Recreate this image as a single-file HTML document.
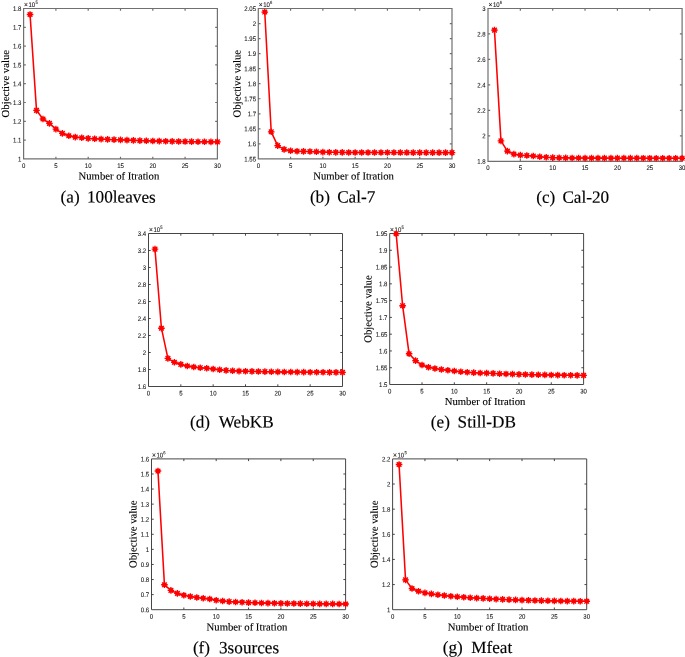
<!DOCTYPE html>
<html lang="en">
<head>
<meta charset="utf-8">
<title>Convergence curves</title>
<style>
html,body{margin:0;padding:0;background:#fff;}
body{width:685px;height:657px;overflow:hidden;}
svg{display:block;}
.t{font-family:"Liberation Sans",Arial,Helvetica,sans-serif;font-size:6.7px;fill:#111;stroke:#111;stroke-width:0.08px;}
.e{font-family:"Liberation Sans",Arial,Helvetica,sans-serif;font-size:6.7px;fill:#111;stroke:#111;stroke-width:0.08px;}
.l{font-family:"Liberation Serif","Times New Roman",Times,serif;font-size:10.7px;fill:#000;stroke:#000;stroke-width:0.12px;}
.c{font-family:"Liberation Serif","Times New Roman",Times,serif;font-size:17.2px;fill:#000;stroke:#000;stroke-width:0.15px;}
.ax{fill:none;stroke:#3c3c3c;stroke-width:0.95;}
.ln{fill:none;stroke:#ff0000;stroke-width:1.55;stroke-linejoin:round;}
.mk{fill:none;stroke:#ff0000;stroke-width:1.35;}
</style>
</head>
<body>
<svg width="685" height="657" viewBox="0 0 685 657">
<defs>
<g id="m"><path class="mk" d="M-3.3 0H3.3M0 -3.3V3.3M-2.33 -2.33L2.33 2.33M-2.33 2.33L2.33 -2.33"/><circle r="2.2" fill="#ff0000"/></g>
</defs>
<rect width="685" height="657" fill="#fff"/>

<g id="plot-a">
<path class="ax" style="stroke:#707070;stroke-width:1.2" d="M23.6 8.5H217.4V158.9H23.6ZM55.90 158.9v-2.2M55.90 8.5v2.2M88.20 158.9v-2.2M88.20 8.5v2.2M120.50 158.9v-2.2M120.50 8.5v2.2M152.80 158.9v-2.2M152.80 8.5v2.2M185.10 158.9v-2.2M185.10 8.5v2.2M23.6 140.10h2.2M217.4 140.10h-2.2M23.6 121.30h2.2M217.4 121.30h-2.2M23.6 102.50h2.2M217.4 102.50h-2.2M23.6 83.70h2.2M217.4 83.70h-2.2M23.6 64.90h2.2M217.4 64.90h-2.2M23.6 46.10h2.2M217.4 46.10h-2.2M23.6 27.30h2.2M217.4 27.30h-2.2"/>
<text class="t" transform="translate(23.60 167.90) rotate(0.03) scale(0.9 1)" text-anchor="middle">0</text>
<text class="t" transform="translate(55.90 167.90) rotate(0.03) scale(0.9 1)" text-anchor="middle">5</text>
<text class="t" transform="translate(88.20 167.90) rotate(0.03) scale(0.9 1)" text-anchor="middle">10</text>
<text class="t" transform="translate(120.50 167.90) rotate(0.03) scale(0.9 1)" text-anchor="middle">15</text>
<text class="t" transform="translate(152.80 167.90) rotate(0.03) scale(0.9 1)" text-anchor="middle">20</text>
<text class="t" transform="translate(185.10 167.90) rotate(0.03) scale(0.9 1)" text-anchor="middle">25</text>
<text class="t" transform="translate(217.40 167.90) rotate(0.03) scale(0.9 1)" text-anchor="middle">30</text>
<text class="t" transform="translate(21.30 161.40) rotate(0.03) scale(0.9 1)" text-anchor="end">1</text>
<text class="t" transform="translate(21.30 142.60) rotate(0.03) scale(0.9 1)" text-anchor="end">1.1</text>
<text class="t" transform="translate(21.30 123.80) rotate(0.03) scale(0.9 1)" text-anchor="end">1.2</text>
<text class="t" transform="translate(21.30 105.00) rotate(0.03) scale(0.9 1)" text-anchor="end">1.3</text>
<text class="t" transform="translate(21.30 86.20) rotate(0.03) scale(0.9 1)" text-anchor="end">1.4</text>
<text class="t" transform="translate(21.30 67.40) rotate(0.03) scale(0.9 1)" text-anchor="end">1.5</text>
<text class="t" transform="translate(21.30 48.60) rotate(0.03) scale(0.9 1)" text-anchor="end">1.6</text>
<text class="t" transform="translate(21.30 29.80) rotate(0.03) scale(0.9 1)" text-anchor="end">1.7</text>
<text class="t" transform="translate(21.30 11.00) rotate(0.03) scale(0.9 1)" text-anchor="end">1.8</text>
<text class="e" transform="translate(24.00 7.10) rotate(0.03) scale(0.9 1)"><tspan font-size="7.4">×</tspan><tspan dx="0.7">10</tspan><tspan dy="-3.2" dx="0.2" font-size="4.6">5</tspan></text>
<polyline class="ln" points="30.06,14.50 36.52,110.40 42.98,119.00 49.44,123.40 55.90,129.10 62.36,133.40 68.82,135.80 75.28,137.10 81.74,137.80 88.20,138.40 94.66,138.80 101.12,139.10 107.58,139.40 114.04,139.65 120.50,139.85 126.96,140.13 133.42,140.37 139.88,140.59 146.34,140.79 152.80,140.96 159.26,141.11 165.72,141.25 172.18,141.37 178.64,141.47 185.10,141.57 191.56,141.65 198.02,141.72 204.48,141.79 210.94,141.85 217.40,141.90"/>
<use href="#m" x="30.06" y="14.50"/>
<use href="#m" x="36.52" y="110.40"/>
<use href="#m" x="42.98" y="119.00"/>
<use href="#m" x="49.44" y="123.40"/>
<use href="#m" x="55.90" y="129.10"/>
<use href="#m" x="62.36" y="133.40"/>
<use href="#m" x="68.82" y="135.80"/>
<use href="#m" x="75.28" y="137.10"/>
<use href="#m" x="81.74" y="137.80"/>
<use href="#m" x="88.20" y="138.40"/>
<use href="#m" x="94.66" y="138.80"/>
<use href="#m" x="101.12" y="139.10"/>
<use href="#m" x="107.58" y="139.40"/>
<use href="#m" x="114.04" y="139.65"/>
<use href="#m" x="120.50" y="139.85"/>
<use href="#m" x="126.96" y="140.13"/>
<use href="#m" x="133.42" y="140.37"/>
<use href="#m" x="139.88" y="140.59"/>
<use href="#m" x="146.34" y="140.79"/>
<use href="#m" x="152.80" y="140.96"/>
<use href="#m" x="159.26" y="141.11"/>
<use href="#m" x="165.72" y="141.25"/>
<use href="#m" x="172.18" y="141.37"/>
<use href="#m" x="178.64" y="141.47"/>
<use href="#m" x="185.10" y="141.57"/>
<use href="#m" x="191.56" y="141.65"/>
<use href="#m" x="198.02" y="141.72"/>
<use href="#m" x="204.48" y="141.79"/>
<use href="#m" x="210.94" y="141.85"/>
<use href="#m" x="217.40" y="141.90"/>
<text class="l" transform="translate(9.10 83.70) rotate(-90.03)" text-anchor="middle">Objective value</text>
<text class="l" transform="translate(118.90 179.40) rotate(0.03)" text-anchor="middle">Number of Itration</text>
<text class="c" transform="translate(60.60 202.60) rotate(0.03)">(a)</text>
<text class="c" transform="translate(87.00 202.60) rotate(0.03)">100leaves</text>
</g>
<g id="plot-b">
<path class="ax" style="stroke:#707070;stroke-width:1.2" d="M258.3 8.5H452.0V158.9H258.3ZM290.58 158.9v-2.2M290.58 8.5v2.2M322.87 158.9v-2.2M322.87 8.5v2.2M355.15 158.9v-2.2M355.15 8.5v2.2M387.43 158.9v-2.2M387.43 8.5v2.2M419.72 158.9v-2.2M419.72 8.5v2.2M258.3 143.86h2.2M452.0 143.86h-2.2M258.3 128.82h2.2M452.0 128.82h-2.2M258.3 113.78h2.2M452.0 113.78h-2.2M258.3 98.74h2.2M452.0 98.74h-2.2M258.3 83.70h2.2M452.0 83.70h-2.2M258.3 68.66h2.2M452.0 68.66h-2.2M258.3 53.62h2.2M452.0 53.62h-2.2M258.3 38.58h2.2M452.0 38.58h-2.2M258.3 23.54h2.2M452.0 23.54h-2.2"/>
<text class="t" transform="translate(258.30 167.90) rotate(0.03) scale(0.9 1)" text-anchor="middle">0</text>
<text class="t" transform="translate(290.58 167.90) rotate(0.03) scale(0.9 1)" text-anchor="middle">5</text>
<text class="t" transform="translate(322.87 167.90) rotate(0.03) scale(0.9 1)" text-anchor="middle">10</text>
<text class="t" transform="translate(355.15 167.90) rotate(0.03) scale(0.9 1)" text-anchor="middle">15</text>
<text class="t" transform="translate(387.43 167.90) rotate(0.03) scale(0.9 1)" text-anchor="middle">20</text>
<text class="t" transform="translate(419.72 167.90) rotate(0.03) scale(0.9 1)" text-anchor="middle">25</text>
<text class="t" transform="translate(452.00 167.90) rotate(0.03) scale(0.9 1)" text-anchor="middle">30</text>
<text class="t" transform="translate(256.00 161.40) rotate(0.03) scale(0.9 1)" text-anchor="end">1.55</text>
<text class="t" transform="translate(256.00 146.36) rotate(0.03) scale(0.9 1)" text-anchor="end">1.6</text>
<text class="t" transform="translate(256.00 131.32) rotate(0.03) scale(0.9 1)" text-anchor="end">1.65</text>
<text class="t" transform="translate(256.00 116.28) rotate(0.03) scale(0.9 1)" text-anchor="end">1.7</text>
<text class="t" transform="translate(256.00 101.24) rotate(0.03) scale(0.9 1)" text-anchor="end">1.75</text>
<text class="t" transform="translate(256.00 86.20) rotate(0.03) scale(0.9 1)" text-anchor="end">1.8</text>
<text class="t" transform="translate(256.00 71.16) rotate(0.03) scale(0.9 1)" text-anchor="end">1.85</text>
<text class="t" transform="translate(256.00 56.12) rotate(0.03) scale(0.9 1)" text-anchor="end">1.9</text>
<text class="t" transform="translate(256.00 41.08) rotate(0.03) scale(0.9 1)" text-anchor="end">1.95</text>
<text class="t" transform="translate(256.00 26.04) rotate(0.03) scale(0.9 1)" text-anchor="end">2</text>
<text class="t" transform="translate(256.00 11.00) rotate(0.03) scale(0.9 1)" text-anchor="end">2.05</text>
<text class="e" transform="translate(258.70 7.10) rotate(0.03) scale(0.9 1)"><tspan font-size="7.4">×</tspan><tspan dx="0.7">10</tspan><tspan dy="-3.2" dx="0.2" font-size="4.6">6</tspan></text>
<polyline class="ln" points="264.76,12.05 271.21,131.80 277.67,145.60 284.13,149.40 290.58,150.75 297.04,151.20 303.50,151.40 309.95,151.55 316.41,151.80 322.87,152.10 329.32,152.30 335.78,152.35 342.24,152.40 348.69,152.45 355.15,152.50 361.61,152.51 368.06,152.53 374.52,152.54 380.98,152.55 387.43,152.55 393.89,152.56 400.35,152.57 406.80,152.57 413.26,152.58 419.72,152.58 426.17,152.59 432.63,152.59 439.09,152.59 445.54,152.60 452.00,152.60"/>
<use href="#m" x="264.76" y="12.05"/>
<use href="#m" x="271.21" y="131.80"/>
<use href="#m" x="277.67" y="145.60"/>
<use href="#m" x="284.13" y="149.40"/>
<use href="#m" x="290.58" y="150.75"/>
<use href="#m" x="297.04" y="151.20"/>
<use href="#m" x="303.50" y="151.40"/>
<use href="#m" x="309.95" y="151.55"/>
<use href="#m" x="316.41" y="151.80"/>
<use href="#m" x="322.87" y="152.10"/>
<use href="#m" x="329.32" y="152.30"/>
<use href="#m" x="335.78" y="152.35"/>
<use href="#m" x="342.24" y="152.40"/>
<use href="#m" x="348.69" y="152.45"/>
<use href="#m" x="355.15" y="152.50"/>
<use href="#m" x="361.61" y="152.51"/>
<use href="#m" x="368.06" y="152.53"/>
<use href="#m" x="374.52" y="152.54"/>
<use href="#m" x="380.98" y="152.55"/>
<use href="#m" x="387.43" y="152.55"/>
<use href="#m" x="393.89" y="152.56"/>
<use href="#m" x="400.35" y="152.57"/>
<use href="#m" x="406.80" y="152.57"/>
<use href="#m" x="413.26" y="152.58"/>
<use href="#m" x="419.72" y="152.58"/>
<use href="#m" x="426.17" y="152.59"/>
<use href="#m" x="432.63" y="152.59"/>
<use href="#m" x="439.09" y="152.59"/>
<use href="#m" x="445.54" y="152.60"/>
<use href="#m" x="452.00" y="152.60"/>
<text class="l" transform="translate(240.60 83.70) rotate(-90.03)" text-anchor="middle">Objective value</text>
<text class="l" transform="translate(353.55 179.40) rotate(0.03)" text-anchor="middle">Number of Itration</text>
<text class="c" transform="translate(309.90 202.60) rotate(0.03)">(b)</text>
<text class="c" transform="translate(337.15 202.60) rotate(0.03)">Cal-7</text>
</g>
<g id="plot-c">
<path class="ax" style="stroke:#707070;stroke-width:1.2" d="M488.0 8.5H682.1V161.3H488.0ZM520.35 161.3v-2.2M520.35 8.5v2.2M552.70 161.3v-2.2M552.70 8.5v2.2M585.05 161.3v-2.2M585.05 8.5v2.2M617.40 161.3v-2.2M617.40 8.5v2.2M649.75 161.3v-2.2M649.75 8.5v2.2M488.0 135.83h2.2M682.1 135.83h-2.2M488.0 110.37h2.2M682.1 110.37h-2.2M488.0 84.90h2.2M682.1 84.90h-2.2M488.0 59.43h2.2M682.1 59.43h-2.2M488.0 33.97h2.2M682.1 33.97h-2.2"/>
<text class="t" transform="translate(488.00 169.95) rotate(0.03) scale(0.9 1)" text-anchor="middle">0</text>
<text class="t" transform="translate(520.35 169.95) rotate(0.03) scale(0.9 1)" text-anchor="middle">5</text>
<text class="t" transform="translate(552.70 169.95) rotate(0.03) scale(0.9 1)" text-anchor="middle">10</text>
<text class="t" transform="translate(585.05 169.95) rotate(0.03) scale(0.9 1)" text-anchor="middle">15</text>
<text class="t" transform="translate(617.40 169.95) rotate(0.03) scale(0.9 1)" text-anchor="middle">20</text>
<text class="t" transform="translate(649.75 169.95) rotate(0.03) scale(0.9 1)" text-anchor="middle">25</text>
<text class="t" transform="translate(682.10 169.95) rotate(0.03) scale(0.9 1)" text-anchor="middle">30</text>
<text class="t" transform="translate(485.70 163.80) rotate(0.03) scale(0.9 1)" text-anchor="end">1.8</text>
<text class="t" transform="translate(485.70 138.33) rotate(0.03) scale(0.9 1)" text-anchor="end">2</text>
<text class="t" transform="translate(485.70 112.87) rotate(0.03) scale(0.9 1)" text-anchor="end">2.2</text>
<text class="t" transform="translate(485.70 87.40) rotate(0.03) scale(0.9 1)" text-anchor="end">2.4</text>
<text class="t" transform="translate(485.70 61.93) rotate(0.03) scale(0.9 1)" text-anchor="end">2.6</text>
<text class="t" transform="translate(485.70 36.47) rotate(0.03) scale(0.9 1)" text-anchor="end">2.8</text>
<text class="t" transform="translate(485.70 11.00) rotate(0.03) scale(0.9 1)" text-anchor="end">3</text>
<text class="e" transform="translate(488.40 7.10) rotate(0.03) scale(0.9 1)"><tspan font-size="7.4">×</tspan><tspan dx="0.7">10</tspan><tspan dy="-3.2" dx="0.2" font-size="4.6">6</tspan></text>
<polyline class="ln" points="494.47,30.10 500.94,140.90 507.41,151.15 513.88,154.15 520.35,155.15 526.82,155.55 533.29,156.05 539.76,156.75 546.23,157.30 552.70,157.60 559.17,157.75 565.64,157.85 572.11,157.95 578.58,158.05 585.05,158.10 591.52,158.11 597.99,158.13 604.46,158.14 610.93,158.15 617.40,158.15 623.87,158.16 630.34,158.17 636.81,158.17 643.28,158.18 649.75,158.18 656.22,158.19 662.69,158.19 669.16,158.19 675.63,158.20 682.10,158.20"/>
<use href="#m" x="494.47" y="30.10"/>
<use href="#m" x="500.94" y="140.90"/>
<use href="#m" x="507.41" y="151.15"/>
<use href="#m" x="513.88" y="154.15"/>
<use href="#m" x="520.35" y="155.15"/>
<use href="#m" x="526.82" y="155.55"/>
<use href="#m" x="533.29" y="156.05"/>
<use href="#m" x="539.76" y="156.75"/>
<use href="#m" x="546.23" y="157.30"/>
<use href="#m" x="552.70" y="157.60"/>
<use href="#m" x="559.17" y="157.75"/>
<use href="#m" x="565.64" y="157.85"/>
<use href="#m" x="572.11" y="157.95"/>
<use href="#m" x="578.58" y="158.05"/>
<use href="#m" x="585.05" y="158.10"/>
<use href="#m" x="591.52" y="158.11"/>
<use href="#m" x="597.99" y="158.13"/>
<use href="#m" x="604.46" y="158.14"/>
<use href="#m" x="610.93" y="158.15"/>
<use href="#m" x="617.40" y="158.15"/>
<use href="#m" x="623.87" y="158.16"/>
<use href="#m" x="630.34" y="158.17"/>
<use href="#m" x="636.81" y="158.17"/>
<use href="#m" x="643.28" y="158.18"/>
<use href="#m" x="649.75" y="158.18"/>
<use href="#m" x="656.22" y="158.19"/>
<use href="#m" x="662.69" y="158.19"/>
<use href="#m" x="669.16" y="158.19"/>
<use href="#m" x="675.63" y="158.20"/>
<use href="#m" x="682.10" y="158.20"/>
<text class="c" transform="translate(536.20 202.70) rotate(0.03)">(c)</text>
<text class="c" transform="translate(562.40 202.70) rotate(0.03)">Cal-20</text>
</g>
<g id="plot-d">
<path class="ax" style="stroke:#3c3c3c;stroke-width:0.95" d="M148.5 233.5H342.5V386.5H148.5ZM180.83 386.5v-2.2M180.83 233.5v2.2M213.17 386.5v-2.2M213.17 233.5v2.2M245.50 386.5v-2.2M245.50 233.5v2.2M277.83 386.5v-2.2M277.83 233.5v2.2M310.17 386.5v-2.2M310.17 233.5v2.2M148.5 369.50h2.2M342.5 369.50h-2.2M148.5 352.50h2.2M342.5 352.50h-2.2M148.5 335.50h2.2M342.5 335.50h-2.2M148.5 318.50h2.2M342.5 318.50h-2.2M148.5 301.50h2.2M342.5 301.50h-2.2M148.5 284.50h2.2M342.5 284.50h-2.2M148.5 267.50h2.2M342.5 267.50h-2.2M148.5 250.50h2.2M342.5 250.50h-2.2"/>
<text class="t" transform="translate(148.50 395.50) rotate(0.03) scale(0.9 1)" text-anchor="middle">0</text>
<text class="t" transform="translate(180.83 395.50) rotate(0.03) scale(0.9 1)" text-anchor="middle">5</text>
<text class="t" transform="translate(213.17 395.50) rotate(0.03) scale(0.9 1)" text-anchor="middle">10</text>
<text class="t" transform="translate(245.50 395.50) rotate(0.03) scale(0.9 1)" text-anchor="middle">15</text>
<text class="t" transform="translate(277.83 395.50) rotate(0.03) scale(0.9 1)" text-anchor="middle">20</text>
<text class="t" transform="translate(310.17 395.50) rotate(0.03) scale(0.9 1)" text-anchor="middle">25</text>
<text class="t" transform="translate(342.50 395.50) rotate(0.03) scale(0.9 1)" text-anchor="middle">30</text>
<text class="t" transform="translate(146.20 389.00) rotate(0.03) scale(0.9 1)" text-anchor="end">1.6</text>
<text class="t" transform="translate(146.20 372.00) rotate(0.03) scale(0.9 1)" text-anchor="end">1.8</text>
<text class="t" transform="translate(146.20 355.00) rotate(0.03) scale(0.9 1)" text-anchor="end">2</text>
<text class="t" transform="translate(146.20 338.00) rotate(0.03) scale(0.9 1)" text-anchor="end">2.2</text>
<text class="t" transform="translate(146.20 321.00) rotate(0.03) scale(0.9 1)" text-anchor="end">2.4</text>
<text class="t" transform="translate(146.20 304.00) rotate(0.03) scale(0.9 1)" text-anchor="end">2.6</text>
<text class="t" transform="translate(146.20 287.00) rotate(0.03) scale(0.9 1)" text-anchor="end">2.8</text>
<text class="t" transform="translate(146.20 270.00) rotate(0.03) scale(0.9 1)" text-anchor="end">3</text>
<text class="t" transform="translate(146.20 253.00) rotate(0.03) scale(0.9 1)" text-anchor="end">3.2</text>
<text class="t" transform="translate(146.20 236.00) rotate(0.03) scale(0.9 1)" text-anchor="end">3.4</text>
<text class="e" transform="translate(148.90 232.10) rotate(0.03) scale(0.9 1)"><tspan font-size="7.4">×</tspan><tspan dx="0.7">10</tspan><tspan dy="-3.2" dx="0.2" font-size="4.6">5</tspan></text>
<polyline class="ln" points="154.97,249.10 161.43,328.20 167.90,358.40 174.37,362.30 180.83,364.40 187.30,366.00 193.77,367.00 200.23,367.70 206.70,368.30 213.17,369.05 219.63,369.80 226.10,370.40 232.57,370.80 239.03,371.10 245.50,371.25 251.97,371.41 258.43,371.54 264.90,371.67 271.37,371.78 277.83,371.87 284.30,371.96 290.77,372.03 297.23,372.10 303.70,372.16 310.17,372.21 316.63,372.26 323.10,372.30 329.57,372.34 336.03,372.37 342.50,372.40"/>
<use href="#m" x="154.97" y="249.10"/>
<use href="#m" x="161.43" y="328.20"/>
<use href="#m" x="167.90" y="358.40"/>
<use href="#m" x="174.37" y="362.30"/>
<use href="#m" x="180.83" y="364.40"/>
<use href="#m" x="187.30" y="366.00"/>
<use href="#m" x="193.77" y="367.00"/>
<use href="#m" x="200.23" y="367.70"/>
<use href="#m" x="206.70" y="368.30"/>
<use href="#m" x="213.17" y="369.05"/>
<use href="#m" x="219.63" y="369.80"/>
<use href="#m" x="226.10" y="370.40"/>
<use href="#m" x="232.57" y="370.80"/>
<use href="#m" x="239.03" y="371.10"/>
<use href="#m" x="245.50" y="371.25"/>
<use href="#m" x="251.97" y="371.41"/>
<use href="#m" x="258.43" y="371.54"/>
<use href="#m" x="264.90" y="371.67"/>
<use href="#m" x="271.37" y="371.78"/>
<use href="#m" x="277.83" y="371.87"/>
<use href="#m" x="284.30" y="371.96"/>
<use href="#m" x="290.77" y="372.03"/>
<use href="#m" x="297.23" y="372.10"/>
<use href="#m" x="303.70" y="372.16"/>
<use href="#m" x="310.17" y="372.21"/>
<use href="#m" x="316.63" y="372.26"/>
<use href="#m" x="323.10" y="372.30"/>
<use href="#m" x="329.57" y="372.34"/>
<use href="#m" x="336.03" y="372.37"/>
<use href="#m" x="342.50" y="372.40"/>
<text class="c" transform="translate(190.00 427.60) rotate(0.03)">(d)</text>
<text class="c" transform="translate(218.70 427.60) rotate(0.03)">WebKB</text>
</g>
<g id="plot-e">
<path class="ax" style="stroke:#3c3c3c;stroke-width:0.95" d="M389.7 233.5H583.6V384.5H389.7ZM422.02 384.5v-2.2M422.02 233.5v2.2M454.33 384.5v-2.2M454.33 233.5v2.2M486.65 384.5v-2.2M486.65 233.5v2.2M518.97 384.5v-2.2M518.97 233.5v2.2M551.28 384.5v-2.2M551.28 233.5v2.2M389.7 367.72h2.2M583.6 367.72h-2.2M389.7 350.94h2.2M583.6 350.94h-2.2M389.7 334.17h2.2M583.6 334.17h-2.2M389.7 317.39h2.2M583.6 317.39h-2.2M389.7 300.61h2.2M583.6 300.61h-2.2M389.7 283.83h2.2M583.6 283.83h-2.2M389.7 267.06h2.2M583.6 267.06h-2.2M389.7 250.28h2.2M583.6 250.28h-2.2"/>
<text class="t" transform="translate(389.70 393.50) rotate(0.03) scale(0.9 1)" text-anchor="middle">0</text>
<text class="t" transform="translate(422.02 393.50) rotate(0.03) scale(0.9 1)" text-anchor="middle">5</text>
<text class="t" transform="translate(454.33 393.50) rotate(0.03) scale(0.9 1)" text-anchor="middle">10</text>
<text class="t" transform="translate(486.65 393.50) rotate(0.03) scale(0.9 1)" text-anchor="middle">15</text>
<text class="t" transform="translate(518.97 393.50) rotate(0.03) scale(0.9 1)" text-anchor="middle">20</text>
<text class="t" transform="translate(551.28 393.50) rotate(0.03) scale(0.9 1)" text-anchor="middle">25</text>
<text class="t" transform="translate(583.60 393.50) rotate(0.03) scale(0.9 1)" text-anchor="middle">30</text>
<text class="t" transform="translate(387.40 387.00) rotate(0.03) scale(0.9 1)" text-anchor="end">1.5</text>
<text class="t" transform="translate(387.40 370.22) rotate(0.03) scale(0.9 1)" text-anchor="end">1.55</text>
<text class="t" transform="translate(387.40 353.44) rotate(0.03) scale(0.9 1)" text-anchor="end">1.6</text>
<text class="t" transform="translate(387.40 336.67) rotate(0.03) scale(0.9 1)" text-anchor="end">1.65</text>
<text class="t" transform="translate(387.40 319.89) rotate(0.03) scale(0.9 1)" text-anchor="end">1.7</text>
<text class="t" transform="translate(387.40 303.11) rotate(0.03) scale(0.9 1)" text-anchor="end">1.75</text>
<text class="t" transform="translate(387.40 286.33) rotate(0.03) scale(0.9 1)" text-anchor="end">1.8</text>
<text class="t" transform="translate(387.40 269.56) rotate(0.03) scale(0.9 1)" text-anchor="end">1.85</text>
<text class="t" transform="translate(387.40 252.78) rotate(0.03) scale(0.9 1)" text-anchor="end">1.9</text>
<text class="t" transform="translate(387.40 236.00) rotate(0.03) scale(0.9 1)" text-anchor="end">1.95</text>
<text class="e" transform="translate(390.10 232.10) rotate(0.03) scale(0.9 1)"><tspan font-size="7.4">×</tspan><tspan dx="0.7">10</tspan><tspan dy="-3.2" dx="0.2" font-size="4.6">5</tspan></text>
<polyline class="ln" points="396.16,233.70 402.63,305.70 409.09,353.80 415.55,360.60 422.02,365.00 428.48,367.30 434.94,368.50 441.41,369.45 447.87,370.20 454.33,371.00 460.80,371.70 467.26,372.20 473.72,372.65 480.19,372.95 486.65,373.10 493.11,373.41 499.58,373.69 506.04,373.93 512.50,374.15 518.97,374.34 525.43,374.51 531.89,374.67 538.36,374.80 544.82,374.92 551.28,375.03 557.75,375.12 564.21,375.20 570.67,375.28 577.14,375.34 583.60,375.40"/>
<use href="#m" x="396.16" y="233.70"/>
<use href="#m" x="402.63" y="305.70"/>
<use href="#m" x="409.09" y="353.80"/>
<use href="#m" x="415.55" y="360.60"/>
<use href="#m" x="422.02" y="365.00"/>
<use href="#m" x="428.48" y="367.30"/>
<use href="#m" x="434.94" y="368.50"/>
<use href="#m" x="441.41" y="369.45"/>
<use href="#m" x="447.87" y="370.20"/>
<use href="#m" x="454.33" y="371.00"/>
<use href="#m" x="460.80" y="371.70"/>
<use href="#m" x="467.26" y="372.20"/>
<use href="#m" x="473.72" y="372.65"/>
<use href="#m" x="480.19" y="372.95"/>
<use href="#m" x="486.65" y="373.10"/>
<use href="#m" x="493.11" y="373.41"/>
<use href="#m" x="499.58" y="373.69"/>
<use href="#m" x="506.04" y="373.93"/>
<use href="#m" x="512.50" y="374.15"/>
<use href="#m" x="518.97" y="374.34"/>
<use href="#m" x="525.43" y="374.51"/>
<use href="#m" x="531.89" y="374.67"/>
<use href="#m" x="538.36" y="374.80"/>
<use href="#m" x="544.82" y="374.92"/>
<use href="#m" x="551.28" y="375.03"/>
<use href="#m" x="557.75" y="375.12"/>
<use href="#m" x="564.21" y="375.20"/>
<use href="#m" x="570.67" y="375.28"/>
<use href="#m" x="577.14" y="375.34"/>
<use href="#m" x="583.60" y="375.40"/>
<text class="l" transform="translate(371.60 309.00) rotate(-90.03)" text-anchor="middle">Objective value</text>
<text class="l" transform="translate(485.05 404.90) rotate(0.03)" text-anchor="middle">Number of Itration</text>
<text class="c" transform="translate(430.80 427.40) rotate(0.03)">(e)</text>
<text class="c" transform="translate(457.60 427.40) rotate(0.03)">Still-DB</text>
</g>
<g id="plot-f">
<path class="ax" style="stroke:#3c3c3c;stroke-width:0.95" d="M151.5 458.9H345.6V609.7H151.5ZM183.85 609.7v-2.2M183.85 458.9v2.2M216.20 609.7v-2.2M216.20 458.9v2.2M248.55 609.7v-2.2M248.55 458.9v2.2M280.90 609.7v-2.2M280.90 458.9v2.2M313.25 609.7v-2.2M313.25 458.9v2.2M151.5 594.62h2.2M345.6 594.62h-2.2M151.5 579.54h2.2M345.6 579.54h-2.2M151.5 564.46h2.2M345.6 564.46h-2.2M151.5 549.38h2.2M345.6 549.38h-2.2M151.5 534.30h2.2M345.6 534.30h-2.2M151.5 519.22h2.2M345.6 519.22h-2.2M151.5 504.14h2.2M345.6 504.14h-2.2M151.5 489.06h2.2M345.6 489.06h-2.2M151.5 473.98h2.2M345.6 473.98h-2.2"/>
<text class="t" transform="translate(151.50 618.70) rotate(0.03) scale(0.9 1)" text-anchor="middle">0</text>
<text class="t" transform="translate(183.85 618.70) rotate(0.03) scale(0.9 1)" text-anchor="middle">5</text>
<text class="t" transform="translate(216.20 618.70) rotate(0.03) scale(0.9 1)" text-anchor="middle">10</text>
<text class="t" transform="translate(248.55 618.70) rotate(0.03) scale(0.9 1)" text-anchor="middle">15</text>
<text class="t" transform="translate(280.90 618.70) rotate(0.03) scale(0.9 1)" text-anchor="middle">20</text>
<text class="t" transform="translate(313.25 618.70) rotate(0.03) scale(0.9 1)" text-anchor="middle">25</text>
<text class="t" transform="translate(345.60 618.70) rotate(0.03) scale(0.9 1)" text-anchor="middle">30</text>
<text class="t" transform="translate(149.20 612.20) rotate(0.03) scale(0.9 1)" text-anchor="end">0.6</text>
<text class="t" transform="translate(149.20 597.12) rotate(0.03) scale(0.9 1)" text-anchor="end">0.7</text>
<text class="t" transform="translate(149.20 582.04) rotate(0.03) scale(0.9 1)" text-anchor="end">0.8</text>
<text class="t" transform="translate(149.20 566.96) rotate(0.03) scale(0.9 1)" text-anchor="end">0.9</text>
<text class="t" transform="translate(149.20 551.88) rotate(0.03) scale(0.9 1)" text-anchor="end">1</text>
<text class="t" transform="translate(149.20 536.80) rotate(0.03) scale(0.9 1)" text-anchor="end">1.1</text>
<text class="t" transform="translate(149.20 521.72) rotate(0.03) scale(0.9 1)" text-anchor="end">1.2</text>
<text class="t" transform="translate(149.20 506.64) rotate(0.03) scale(0.9 1)" text-anchor="end">1.3</text>
<text class="t" transform="translate(149.20 491.56) rotate(0.03) scale(0.9 1)" text-anchor="end">1.4</text>
<text class="t" transform="translate(149.20 476.48) rotate(0.03) scale(0.9 1)" text-anchor="end">1.5</text>
<text class="t" transform="translate(149.20 461.40) rotate(0.03) scale(0.9 1)" text-anchor="end">1.6</text>
<text class="e" transform="translate(151.90 457.50) rotate(0.03) scale(0.9 1)"><tspan font-size="7.4">×</tspan><tspan dx="0.7">10</tspan><tspan dy="-3.2" dx="0.2" font-size="4.6">6</tspan></text>
<polyline class="ln" points="157.97,471.05 164.44,584.80 170.91,590.40 177.38,593.40 183.85,595.20 190.32,596.50 196.79,597.50 203.26,598.20 209.73,599.00 216.20,600.30 222.67,601.00 229.14,601.60 235.61,602.00 242.08,602.30 248.55,602.60 255.02,602.79 261.49,602.96 267.96,603.11 274.43,603.24 280.90,603.36 287.37,603.46 293.84,603.55 300.31,603.64 306.78,603.71 313.25,603.77 319.72,603.83 326.19,603.88 332.66,603.92 339.13,603.96 345.60,604.00"/>
<use href="#m" x="157.97" y="471.05"/>
<use href="#m" x="164.44" y="584.80"/>
<use href="#m" x="170.91" y="590.40"/>
<use href="#m" x="177.38" y="593.40"/>
<use href="#m" x="183.85" y="595.20"/>
<use href="#m" x="190.32" y="596.50"/>
<use href="#m" x="196.79" y="597.50"/>
<use href="#m" x="203.26" y="598.20"/>
<use href="#m" x="209.73" y="599.00"/>
<use href="#m" x="216.20" y="600.30"/>
<use href="#m" x="222.67" y="601.00"/>
<use href="#m" x="229.14" y="601.60"/>
<use href="#m" x="235.61" y="602.00"/>
<use href="#m" x="242.08" y="602.30"/>
<use href="#m" x="248.55" y="602.60"/>
<use href="#m" x="255.02" y="602.79"/>
<use href="#m" x="261.49" y="602.96"/>
<use href="#m" x="267.96" y="603.11"/>
<use href="#m" x="274.43" y="603.24"/>
<use href="#m" x="280.90" y="603.36"/>
<use href="#m" x="287.37" y="603.46"/>
<use href="#m" x="293.84" y="603.55"/>
<use href="#m" x="300.31" y="603.64"/>
<use href="#m" x="306.78" y="603.71"/>
<use href="#m" x="313.25" y="603.77"/>
<use href="#m" x="319.72" y="603.83"/>
<use href="#m" x="326.19" y="603.88"/>
<use href="#m" x="332.66" y="603.92"/>
<use href="#m" x="339.13" y="603.96"/>
<use href="#m" x="345.60" y="604.00"/>
<text class="l" transform="translate(136.60 534.30) rotate(-90.03)" text-anchor="middle">Objective value</text>
<text class="l" transform="translate(246.95 630.40) rotate(0.03)" text-anchor="middle">Number of Itration</text>
<text class="c" transform="translate(192.90 653.30) rotate(0.03)">(f)</text>
<text class="c" transform="translate(219.00 653.30) rotate(0.03)">3sources</text>
</g>
<g id="plot-g">
<path class="ax" style="stroke:#3c3c3c;stroke-width:0.95" d="M392.6 458.9H586.7V609.7H392.6ZM424.95 609.7v-2.2M424.95 458.9v2.2M457.30 609.7v-2.2M457.30 458.9v2.2M489.65 609.7v-2.2M489.65 458.9v2.2M522.00 609.7v-2.2M522.00 458.9v2.2M554.35 609.7v-2.2M554.35 458.9v2.2M392.6 584.57h2.2M586.7 584.57h-2.2M392.6 559.43h2.2M586.7 559.43h-2.2M392.6 534.30h2.2M586.7 534.30h-2.2M392.6 509.17h2.2M586.7 509.17h-2.2M392.6 484.03h2.2M586.7 484.03h-2.2"/>
<text class="t" transform="translate(392.60 618.70) rotate(0.03) scale(0.9 1)" text-anchor="middle">0</text>
<text class="t" transform="translate(424.95 618.70) rotate(0.03) scale(0.9 1)" text-anchor="middle">5</text>
<text class="t" transform="translate(457.30 618.70) rotate(0.03) scale(0.9 1)" text-anchor="middle">10</text>
<text class="t" transform="translate(489.65 618.70) rotate(0.03) scale(0.9 1)" text-anchor="middle">15</text>
<text class="t" transform="translate(522.00 618.70) rotate(0.03) scale(0.9 1)" text-anchor="middle">20</text>
<text class="t" transform="translate(554.35 618.70) rotate(0.03) scale(0.9 1)" text-anchor="middle">25</text>
<text class="t" transform="translate(586.70 618.70) rotate(0.03) scale(0.9 1)" text-anchor="middle">30</text>
<text class="t" transform="translate(390.30 612.20) rotate(0.03) scale(0.9 1)" text-anchor="end">1</text>
<text class="t" transform="translate(390.30 587.07) rotate(0.03) scale(0.9 1)" text-anchor="end">1.2</text>
<text class="t" transform="translate(390.30 561.93) rotate(0.03) scale(0.9 1)" text-anchor="end">1.4</text>
<text class="t" transform="translate(390.30 536.80) rotate(0.03) scale(0.9 1)" text-anchor="end">1.6</text>
<text class="t" transform="translate(390.30 511.67) rotate(0.03) scale(0.9 1)" text-anchor="end">1.8</text>
<text class="t" transform="translate(390.30 486.53) rotate(0.03) scale(0.9 1)" text-anchor="end">2</text>
<text class="t" transform="translate(390.30 461.40) rotate(0.03) scale(0.9 1)" text-anchor="end">2.2</text>
<text class="e" transform="translate(393.00 457.50) rotate(0.03) scale(0.9 1)"><tspan font-size="7.4">×</tspan><tspan dx="0.7">10</tspan><tspan dy="-3.2" dx="0.2" font-size="4.6">5</tspan></text>
<polyline class="ln" points="399.07,464.50 405.54,579.85 412.01,588.50 418.48,591.20 424.95,592.85 431.42,593.90 437.89,594.70 444.36,595.50 450.83,596.20 457.30,596.80 463.77,597.20 470.24,597.70 476.71,598.10 483.18,598.40 489.65,598.75 496.12,599.10 502.59,599.40 509.06,599.67 515.53,599.91 522.00,600.13 528.47,600.32 534.94,600.49 541.41,600.64 547.88,600.77 554.35,600.88 560.82,600.99 567.29,601.08 573.76,601.16 580.23,601.24 586.70,601.30"/>
<use href="#m" x="399.07" y="464.50"/>
<use href="#m" x="405.54" y="579.85"/>
<use href="#m" x="412.01" y="588.50"/>
<use href="#m" x="418.48" y="591.20"/>
<use href="#m" x="424.95" y="592.85"/>
<use href="#m" x="431.42" y="593.90"/>
<use href="#m" x="437.89" y="594.70"/>
<use href="#m" x="444.36" y="595.50"/>
<use href="#m" x="450.83" y="596.20"/>
<use href="#m" x="457.30" y="596.80"/>
<use href="#m" x="463.77" y="597.20"/>
<use href="#m" x="470.24" y="597.70"/>
<use href="#m" x="476.71" y="598.10"/>
<use href="#m" x="483.18" y="598.40"/>
<use href="#m" x="489.65" y="598.75"/>
<use href="#m" x="496.12" y="599.10"/>
<use href="#m" x="502.59" y="599.40"/>
<use href="#m" x="509.06" y="599.67"/>
<use href="#m" x="515.53" y="599.91"/>
<use href="#m" x="522.00" y="600.13"/>
<use href="#m" x="528.47" y="600.32"/>
<use href="#m" x="534.94" y="600.49"/>
<use href="#m" x="541.41" y="600.64"/>
<use href="#m" x="547.88" y="600.77"/>
<use href="#m" x="554.35" y="600.88"/>
<use href="#m" x="560.82" y="600.99"/>
<use href="#m" x="567.29" y="601.08"/>
<use href="#m" x="573.76" y="601.16"/>
<use href="#m" x="580.23" y="601.24"/>
<use href="#m" x="586.70" y="601.30"/>
<text class="l" transform="translate(377.70 534.30) rotate(-90.03)" text-anchor="middle">Objective value</text>
<text class="l" transform="translate(488.05 630.40) rotate(0.03)" text-anchor="middle">Number of Itration</text>
<text class="c" transform="translate(442.80 653.00) rotate(0.03)">(g)</text>
<text class="c" transform="translate(471.20 653.00) rotate(0.03)">Mfeat</text>
</g>
</svg>
</body>
</html>
